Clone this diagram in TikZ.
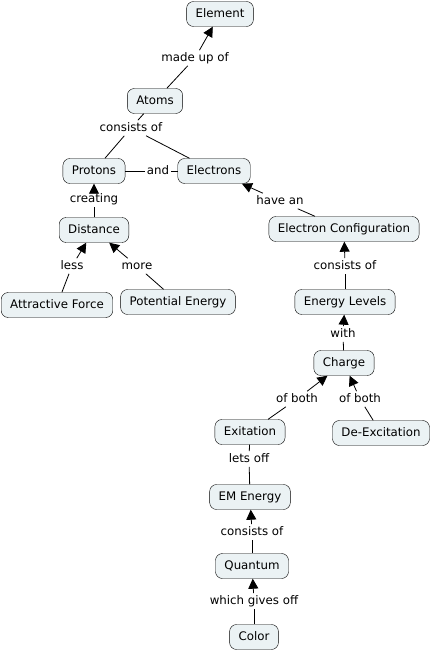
\documentclass[tikz,border=0pt]{standalone}
\usepackage{fontspec}
\setmainfont{DejaVu Sans}
\usetikzlibrary{arrows.meta}

\definecolor{conceptfill}{HTML}{EBF2F4}

\tikzset{
  concept/.style   = {shape=rectangle, rounded corners=7pt,
                      draw, fill=conceptfill, align=center,
                      minimum height=25pt, inner xsep=9pt,
                      text height=8.7pt, text depth=2.5pt},
  linklabel/.style = {inner sep=2pt, text height=8.7pt, text depth=2.5pt},
  link/.style      = {draw, line width=0.8pt},
  arrowlink/.style = {link, -{Triangle[length=10pt,width=10pt]}}
}

\begin{document}
\begin{tikzpicture}
[
x=1pt, y=-1pt,
    every node/.style = {font=\fontsize{11.8}{13}\selectfont}
  ]
\useasboundingbox (0,0) rectangle (431,652);

% concepts
\node[concept] (element)  at (220,14)  {Element};
\node[concept] (atoms)    at (155,101) {Atoms};
\node[concept] (protons)  at (94,171)  {Protons};
\node[concept] (electrons) at (214,171) {Electrons};
\node[concept] (distance) at (94,230)  {Distance};
\node[concept] (attract)  at (57,305)  {Attractive Force};
\node[concept] (potential) at (178,302) {Potential Energy};
\node[concept] (config)   at (344,229) {Electron Configuration};
\node[concept] (levels)   at (345,302) {Energy Levels};
\node[concept] (charge)   at (344,363) {Charge};
\node[concept] (exit)     at (250,432) {Exitation};
\node[concept] (deexit)   at (381,433) {De-Excitation};
\node[concept] (emenergy) at (250,497) {EM Energy};
\node[concept] (quantum)  at (252,566) {Quantum};
\node[concept] (color)    at (254,637) {Color};

% linking phrases
\node[linklabel] (madeup)   at (195,58)  {made up of};
\node[linklabel] (consists) at (131,128) {consists of};
\node[linklabel] (and)      at (158,171) {and};
\node[linklabel] (creating) at (94,199)  {creating};
\node[linklabel] (less)     at (72,266)  {less};
\node[linklabel] (more)     at (137,266) {more};
\node[linklabel] (havean)   at (280,201) {have an};
\node[linklabel] (consistsB) at (345,266) {consists of};
\node[linklabel] (with)     at (343,334) {with};
\node[linklabel] (bothL)    at (297,399) {of both};
\node[linklabel] (bothR)    at (360,399) {of both};
\node[linklabel] (letsoff)  at (249,459) {lets off};
\node[linklabel] (consistsC) at (252,532) {consists of};
\node[linklabel] (gives)    at (254,601) {which gives off};

% connections
\draw[link] (atoms) -- (madeup);
\draw[arrowlink] (madeup) -- (element);
\draw[link] (atoms) -- (consists);
\draw[link] (consists) -- (protons);
\draw[link] (consists) -- (electrons);
\draw[link] (protons) -- (and);
\draw[link] (and) -- (electrons);
\draw[link] (distance) -- (creating);
\draw[arrowlink] (creating) -- (protons);
\draw[link] (attract) -- (less);
\draw[arrowlink] (less) -- (distance);
\draw[link] (potential) -- (more);
\draw[arrowlink] (more) -- (distance);
\draw[link] (config) -- (havean);
\draw[arrowlink] (havean) -- (electrons);
\draw[link] (levels) -- (consistsB);
\draw[arrowlink] (consistsB) -- (config);
\draw[link] (charge) -- (with);
\draw[arrowlink] (with) -- (levels);
\draw[link] (exit) -- (bothL);
\draw[arrowlink] (bothL) -- (charge);
\draw[link] (deexit) -- (bothR);
\draw[arrowlink] (bothR) -- (charge);
\draw[link] (emenergy) -- (letsoff);
\draw[link] (letsoff) -- (exit);
\draw[link] (quantum) -- (consistsC);
\draw[arrowlink] (consistsC) -- (emenergy);
\draw[link] (color) -- (gives);
\draw[arrowlink] (gives) -- (quantum);
\end{tikzpicture}
\end{document}
